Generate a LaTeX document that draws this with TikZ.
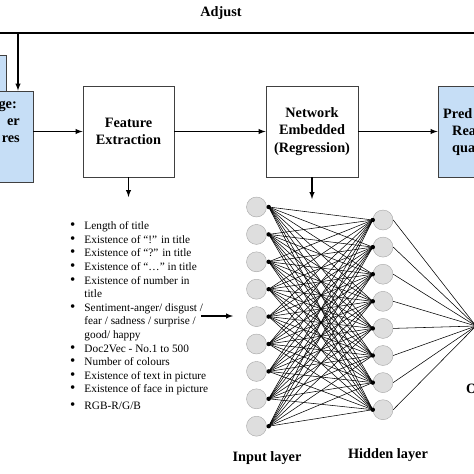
\documentclass[tikz,border=0pt]{standalone}
\usepackage{fontspec}
\setmainfont{Liberation Serif}
\usetikzlibrary{arrows,positioning,calc}

\definecolor{boxblue}{RGB}{198,222,246}
\definecolor{cellgray}{RGB}{222,222,222}
\definecolor{rimgray}{RGB}{165,165,165}

\newcommand{\bul}{{\fontsize{15}{13.6}\selectfont\textbullet}}

\begin{document}
\begin{tikzpicture}[x=1pt,y=-1pt,
  box/.style={draw=black!75, line width=0.9pt, fill=white, minimum width=91pt, minimum height=91pt, align=center, font=\fontsize{14.3}{17.3}\selectfont\bfseries},
  bluebox/.style={box, fill=boxblue},
  arr/.style={-latex, line width=1.4pt},
  wire/.style={line width=0.55pt},
  neuron/.style={circle, draw=rimgray, fill=cellgray, minimum size=20pt, inner sep=0pt},
  lbl/.style={font=\fontsize{14.3}{17.3}\selectfont\bfseries, inner sep=0pt}]

\useasboundingbox (0,0) rectangle (474,474);
\clip (0,0) rectangle (474,474);

% feedback line
\node[lbl] (adjust) at (221,13) {Adjust};
\coordinate (tl) at (0,33);
\coordinate (tr) at (474,33);
\coordinate (fb) at (18,33);
\draw[line width=1.4pt] (tl) -- (tr);

% boxes
\node[bluebox, minimum width=92pt, minimum height=122pt] (img0) at (-40,116) {};
\node[bluebox, minimum width=93pt] (img) at (-13.5,136.5) {};
\node[lbl, anchor=east, align=right] (imgtxt) at (20,122) {ge:\hspace*{3pt}\\er\hspace*{6pt}\\res};
\node[box] (feat) at (128.5,131.5) {Feature\\Extraction};
\node[box, minimum width=92pt] (net) at (312,131.5) {Network\\Embedded\\(Regression)};
\node[bluebox, minimum width=92pt] (pred) at (484,131.5) {};
\node[lbl, anchor=west, align=left] (predtxt) at (443,132) {Pred\\\hspace*{9pt}Rea\\\hspace*{9pt}qua};

\draw[arr] (fb) -- (img.north -| fb);
\draw[arr] (img.east |- feat.west) -- (feat.west);
\draw[arr] (feat.east) -- (net.west);
\draw[arr] (net.east) -- (pred.west);

\coordinate (featdn) at (128.5,197);
\coordinate (netdn) at (312,199);
\draw[arr] (feat.south) -- (featdn);
\draw[arr] (net.south) -- (netdn);

% feature list
\node[anchor=north west, inner sep=0pt, font=\fontsize{11.3}{13.6}\selectfont] (feats) at (70,220) {%
\begin{tabular}{@{}c@{\hspace{9pt}}l@{}}
\bul & Length of title\\
\bul & Existence of “!” in title\\
\bul & Existence of “?” in title\\
\bul & Existence of “…” in title\\
\bul & Existence of number in\\
 & title\\
\bul & Sentiment-anger/ disgust /\\
 & fear / sadness / surprise /\\
 & good/ happy\\
\bul & Doc2Vec - No.1 to 500\\
\bul & Number of colours\\
\bul & Existence of text in picture\\
\bul & Existence of face in picture\\[3pt]
\bul & RGB-R/G/B
\end{tabular}};

\coordinate (lst) at (201,316);
\coordinate (inl) at (233,316);
\draw[arr] (lst) -- (inl);

% network
\foreach \k in {1,...,9}
  \node[neuron] (i\k) at (256.5,{207+27.4*(\k-1)}) {};
\foreach \j in {1,...,8}
  \node[neuron] (h\j) at (383,{220+27.1*(\j-1)}) {};
\coordinate (outp) at (476,326);

\foreach \k in {1,...,9}
  \foreach \j in {1,...,8}
    \draw[wire] ([xshift=2pt]i\k.east) -- (h\j.west);
\foreach \k in {1,...,9}
  \fill ([xshift=2pt]i\k.east) circle (2.2pt);
\foreach \j in {1,...,8}{
  \fill (h\j.west) circle (2.2pt);
  \draw[wire] (h\j.east) -- (outp);
}

\node[lbl] (inlab) at (267,458) {Input layer};
\node[lbl] (hidlab) at (388,455) {Hidden layer};
\node[lbl, anchor=west] (outlab) at (466,389) {Ou};

\end{tikzpicture}
\end{document}
